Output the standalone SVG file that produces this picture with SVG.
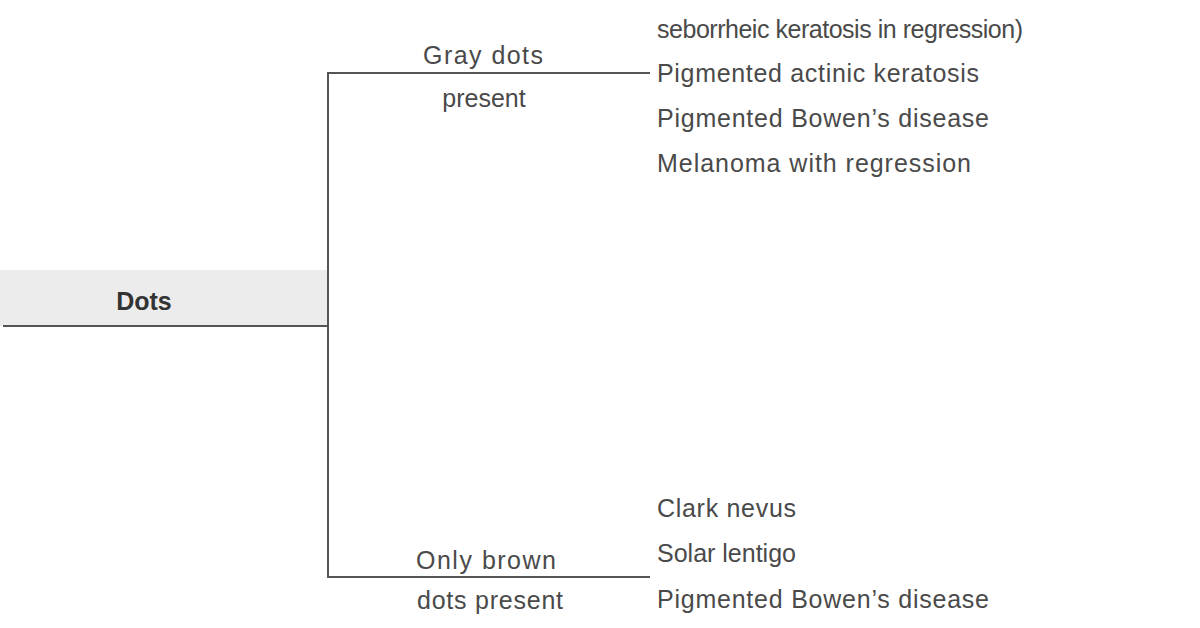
<svg xmlns="http://www.w3.org/2000/svg" width="1200" height="628" viewBox="0 0 1200 628">
<style>
.t{font-family:"Liberation Sans",Arial,sans-serif;font-size:25px;fill:#4a4a4a}
.c{text-anchor:middle}
.ln{stroke:#555;stroke-width:2;fill:none}
</style>
<rect width="1200" height="628" fill="#fff"/>
<g id="node-dots">
<rect x="0" y="270" width="327" height="56" fill="#ececec"/>
<text class="t c" x="144" y="310" style="font-weight:bold;fill:#333">Dots</text>
</g>
<g id="connectors">
<line class="ln" x1="3" y1="326" x2="328" y2="326"/>
<line class="ln" x1="328" y1="72" x2="328" y2="578"/>
<line class="ln" x1="328" y1="73" x2="650" y2="73"/>
<line class="ln" x1="328" y1="577" x2="650" y2="577"/>
</g>
<g id="label-gray">
<text class="t c" x="483" y="64" textLength="120">Gray dots</text>
<text class="t c" x="484" y="107">present</text>
</g>
<g id="label-brown">
<text class="t c" x="486" y="569" textLength="140">Only brown</text>
<text class="t c" x="490" y="609" textLength="146">dots present</text>
</g>
<g id="list-gray">
<text class="t" x="657" y="38" textLength="366">seborrheic keratosis in regression)</text>
<text class="t" x="657" y="82" textLength="322">Pigmented actinic keratosis</text>
<text class="t" x="657" y="127" textLength="332">Pigmented Bowen’s disease</text>
<text class="t" x="657" y="172" textLength="314">Melanoma with regression</text>
</g>
<g id="list-brown">
<text class="t" x="657" y="517" textLength="139">Clark nevus</text>
<text class="t" x="657" y="562">Solar lentigo</text>
<text class="t" x="657" y="608" textLength="332">Pigmented Bowen’s disease</text>
</g>
</svg>
